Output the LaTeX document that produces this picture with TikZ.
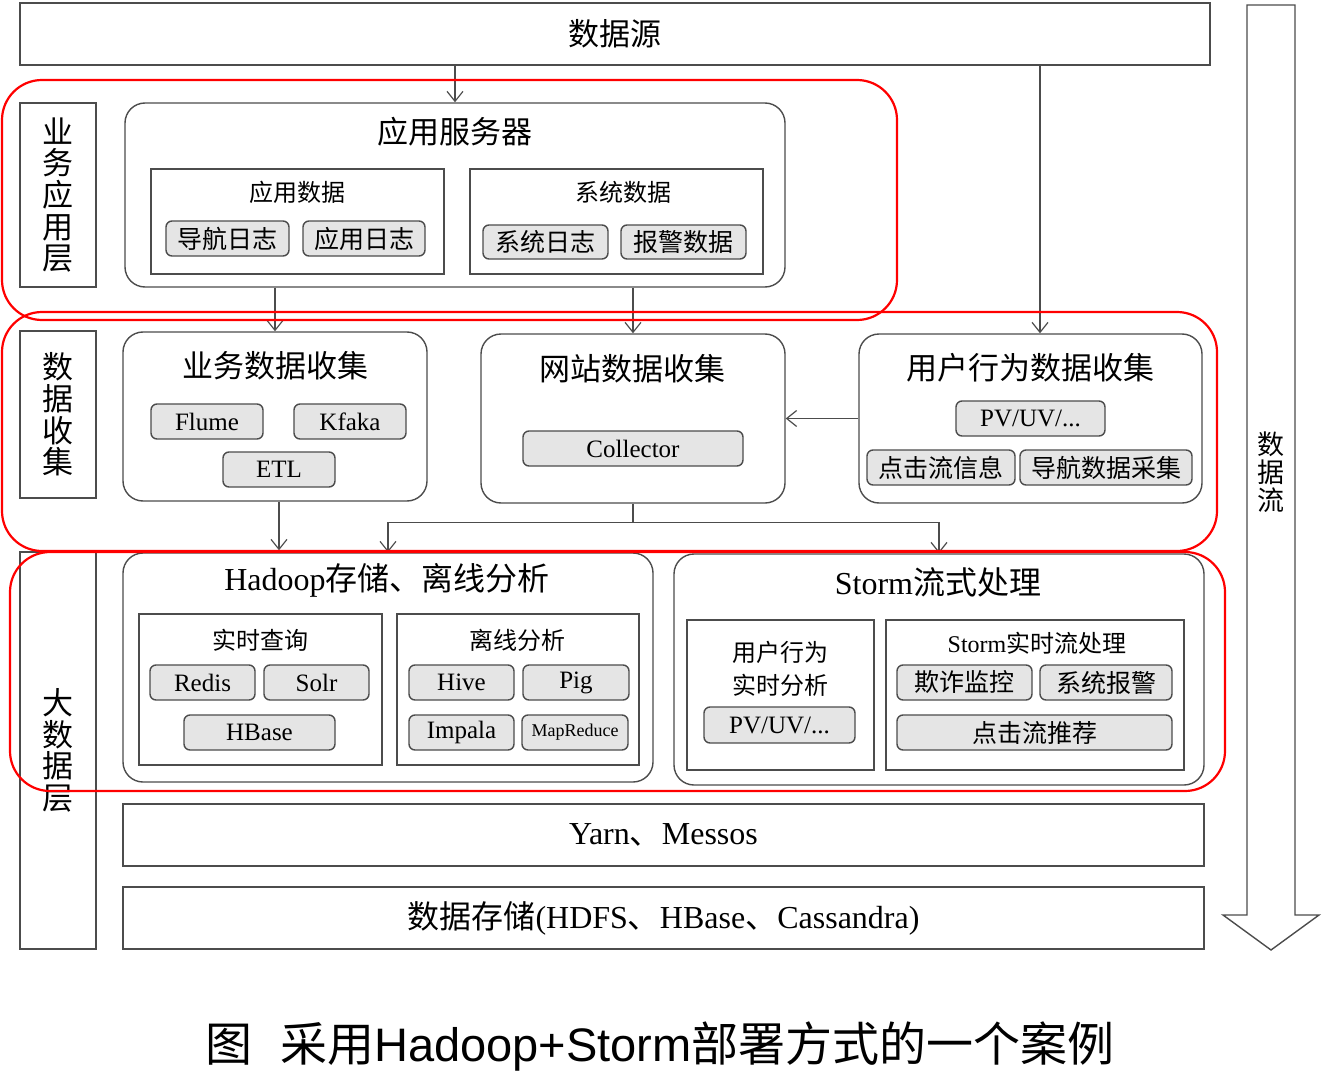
\documentclass[tikz,border=0pt]{standalone}
\usepackage{fontspec}
\setmainfont{Liberation Serif}
\newfontfamily\cjk{Noto Sans CJK SC}
\newfontfamily\capsans{Liberation Sans}
\usetikzlibrary{arrows.meta, positioning}
\definecolor{linegray}{gray}{0.3}
\definecolor{itemgray}{gray}{0.9}
\definecolor{framered}{RGB}{255,0,0}
\tikzset{>={Straight Barb[length=5pt,width=8pt]}}

\begin{document}
\begin{tikzpicture}[x=0.5pt, y=-0.5pt,
    every node/.style={inner sep=0pt},
    plainbox/.style={draw=linegray, line width=0.7pt},
    groupbox/.style={draw=linegray, line width=0.7pt, rounded corners=10pt},
    itembox/.style={draw=linegray, line width=0.7pt, fill=itemgray, rounded corners=3pt, font=\fontsize{12.5pt}{14pt}\selectfont},
    redframe/.style={draw=framered, line width=1.1pt, rounded corners=20pt},
    bigtext/.style={font=\fontsize{15.5pt}{15.8pt}\selectfont, align=center},
    bigmix/.style={font=\fontsize{16pt}{16pt}\selectfont, align=center},
    subtext/.style={font=\fontsize{12pt}{16.5pt}\selectfont, align=center},
    link/.style={draw=linegray, line width=0.6pt}]
    \useasboundingbox (0,0) rectangle (1323,1086);

    % data source and data flow arrow
    \node[plainbox, minimum width=595pt, minimum height=31pt, bigtext] (src) at (615,34) {\cjk 数据源};
    \draw[plainbox] (1247,5) -- (1295,5) -- (1295,915) -- (1319,915) -- (1271,950) -- (1223,915) -- (1247,915) -- cycle;
    \node[font=\fontsize{13.5pt}{14pt}\selectfont, align=center] (flowlbl) at (1271,472) {\cjk 数\\\cjk 据\\\cjk 流};

    % business application layer
    \node[plainbox, minimum width=38pt, minimum height=92pt, bigtext] (lay1) at (58,195) {\cjk 业\\\cjk 务\\\cjk 应\\\cjk 用\\\cjk 层};
    \node[groupbox, minimum width=330pt, minimum height=92pt] (appsrv) at (455,195) {};
    \node[bigtext] (appsrvT) at (455,132) {\cjk 应用服务器};
    \node[plainbox, minimum width=146.5pt, minimum height=52.5pt] (appdata) at (297.5,221.5) {};
    \node[subtext] (appdataT) at (297,192) {\cjk 应用数据};
    \node[itembox, minimum width=61.5pt, minimum height=17.5pt] (navlog) at (227.5,238.5) {\cjk 导航日志};
    \node[itembox, minimum width=61pt, minimum height=17.5pt] (applog) at (364,238.5) {\cjk 应用日志};
    \node[plainbox, minimum width=146.5pt, minimum height=52.5pt] (sysdata) at (616.5,221.5) {};
    \node[subtext] (sysdataT) at (623,192) {\cjk 系统数据};
    \node[itembox, minimum width=62.5pt, minimum height=17pt] (syslog) at (545.5,242) {\cjk 系统日志};
    \node[itembox, minimum width=62.5pt, minimum height=17pt] (alarm) at (683.5,242) {\cjk 报警数据};

    % data collection layer
    \node[plainbox, minimum width=38pt, minimum height=83.5pt, bigtext] (lay2) at (58,414.5) {\cjk 数\\\cjk 据\\\cjk 收\\\cjk 集};
    \node[groupbox, minimum width=152pt, minimum height=84.5pt] (bizcol) at (275,416.5) {};
    \node[bigtext] (bizcolT) at (275,366) {\cjk 业务数据收集};
    \node[itembox, minimum width=56pt, minimum height=17.5pt] (flume) at (207,421.5) {Flume};
    \node[itembox, minimum width=56pt, minimum height=17.5pt] (kfaka) at (350,421.5) {Kfaka};
    \node[itembox, minimum width=56pt, minimum height=17.5pt] (etl) at (279,469.5) {ETL};
    \node[groupbox, minimum width=152pt, minimum height=84.5pt] (webcol) at (633,418.5) {};
    \node[bigtext] (webcolT) at (632,369) {\cjk 网站数据收集};
    \node[itembox, minimum width=110pt, minimum height=17.5pt] (collector) at (633,448.5) {Collector};
    \node[groupbox, minimum width=171.5pt, minimum height=84.5pt] (usrcol) at (1030.5,418.5) {};
    \node[bigtext] (usrcolT) at (1030,368) {\cjk 用户行为数据收集};
    \node[itembox, minimum width=74.5pt, minimum height=17.5pt] (pvuvA) at (1030.5,418.5) {PV/UV/...};
    \node[itembox, minimum width=74pt, minimum height=17.5pt] (clickinfo) at (941,467.5) {\cjk 点击流信息};
    \node[itembox, minimum width=86pt, minimum height=17.5pt] (navcol) at (1106,467.5) {\cjk 导航数据采集};

    % big data layer
    \node[plainbox, minimum width=38pt, minimum height=198.5pt, bigtext] (lay3) at (58,750.5) {\cjk 大\\\cjk 数\\\cjk 据\\\cjk 层};
    \node[groupbox, minimum width=265pt, minimum height=114.5pt] (hadoop) at (388,667.5) {};
    \node[bigmix] (hadoopT) at (387,580) {Hadoop{\cjk 存储、离线分析}};
    \node[plainbox, minimum width=121.5pt, minimum height=75.5pt] (rtq) at (260.5,689.5) {};
    \node[subtext] (rtqT) at (260,640) {\cjk 实时查询};
    \node[itembox, minimum width=52.5pt, minimum height=17.5pt] (redis) at (202.5,682.5) {Redis};
    \node[itembox, minimum width=52.5pt, minimum height=17.5pt] (solr) at (316.5,682.5) {Solr};
    \node[itembox, minimum width=75.5pt, minimum height=17.5pt] (hbase) at (259.5,732.5) {HBase};
    \node[plainbox, minimum width=121pt, minimum height=75.5pt] (offl) at (518,689.5) {};
    \node[subtext] (offlT) at (517,640) {\cjk 离线分析};
    \node[itembox, minimum width=52.5pt, minimum height=17.5pt] (hive) at (461.5,682.5) {Hive};
    \node[itembox, minimum width=53pt, minimum height=17.5pt] (pig) at (576,682.5) {Pig};
    \node[itembox, minimum width=52.5pt, minimum height=17.5pt] (impala) at (461.5,732.5) {Impala};
    \node[itembox, minimum width=53pt, minimum height=17.5pt, font=\fontsize{9pt}{10pt}\selectfont] (mapred) at (575,732.5) {MapReduce};
    \node[groupbox, minimum width=265pt, minimum height=115.5pt] (storm) at (939,669.5) {};
    \node[bigmix] (stormT) at (938,582) {Storm{\cjk 流式处理}};
    \node[plainbox, minimum width=93.5pt, minimum height=75pt] (usrrt) at (780.5,695) {};
    \node[subtext] (usrrtT) at (780,668.5) {\cjk 用户行为\\\cjk 实时分析};
    \node[itembox, minimum width=75.5pt, minimum height=18pt] (pvuvB) at (779.5,725) {PV/UV/...};
    \node[plainbox, minimum width=149pt, minimum height=75pt] (stormrt) at (1035,695) {};
    \node[subtext] (stormrtT) at (1037,643) {Storm{\cjk 实时流处理}};
    \node[itembox, minimum width=67.5pt, minimum height=17.5pt] (fraud) at (964.5,682.5) {\cjk 欺诈监控};
    \node[itembox, minimum width=66pt, minimum height=17.5pt] (sysalarm) at (1106,682.5) {\cjk 系统报警};
    \node[itembox, minimum width=137.5pt, minimum height=17.5pt] (clickrec) at (1034.5,732.5) {\cjk 点击流推荐};
    \node[plainbox, minimum width=540.5pt, minimum height=31pt, bigmix] (yarn) at (663.5,835) {Yarn{\cjk 、}Messos};
    \node[plainbox, minimum width=540.5pt, minimum height=31pt, bigmix] (store) at (663.5,918) {{\cjk 数据存储}(HDFS{\cjk 、}HBase{\cjk 、}Cassandra)};

    % connectors
    \draw[link, ->] (src.south -| appsrv.north) -- (appsrv.north);
    \draw[link, ->] (appsrv.south -| bizcol.north) -- (bizcol.north);
    \draw[link, ->] (appsrv.south -| webcol.north) -- (webcol.north);
    \draw[link, ->] ([xshift=4.75pt]src.south -| usrcol.north) -- ([xshift=4.75pt]usrcol.north);
    \draw[link, ->] (usrcol.west) -- (webcol.east);
    \draw[link, ->] ([xshift=2pt]bizcol.south) -- ([xshift=2pt, yshift=1pt]bizcol.south |- hadoop.north);
    \draw[link] (webcol.south) -- ++(0,19) coordinate (split);
    \draw[link, ->] (split) -| (hadoop.north);
    \draw[link, ->] (split) -| (storm.north);

    % red layer frames
    \draw[redframe] (2,80) rectangle (897,320);
    \draw[redframe] (2,312) rectangle (1217,551);
    \draw[redframe] (10,552) rectangle (1225,791);

    % caption
    \node[font=\fontsize{23.5pt}{25pt}\selectfont] (caption) at (660,1046) {{\cjk 图}\hspace{0.6em}{\cjk 采用}{\capsans Hadoop+Storm}{\cjk 部署方式的一个案例}};
\end{tikzpicture}
\end{document}
